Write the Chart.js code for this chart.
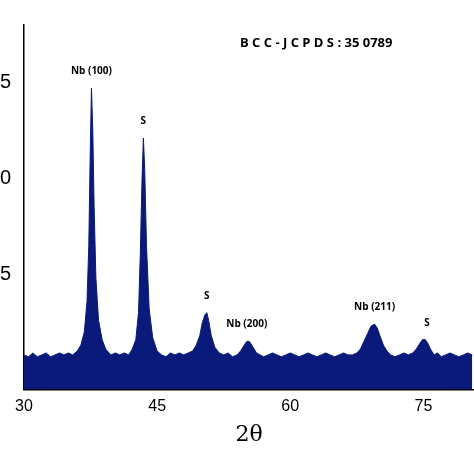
<!DOCTYPE html>
<html><head><meta charset="utf-8">
<script src="https://cdn.jsdelivr.net/npm/chart.js@4.4.0/dist/chart.umd.min.js"></script>
<style>html,body{margin:0;padding:0;background:#fff}#wrap{width:474px;height:474px}</style>
</head><body><div id="wrap"><canvas id="myChart"></canvas></div>
<script>
const twoTheta = [30,30.5,31,31.5,32,32.5,33,33.5,34,34.5,35,35.5,36,36.4,36.8,37.1,37.3,37.45,37.6,37.75,37.9,38.1,38.4,38.8,39.2,39.8,40.3,40.8,41.3,41.8,42.2,42.6,42.9,43.1,43.3,43.45,43.6,43.8,44.1,44.5,45,45.5,46,46.5,47,47.5,48,48.5,49,49.4,49.8,50.1,50.4,50.6,50.8,51.1,51.5,52,52.5,53,53.5,54,54.4,54.8,55.1,55.4,55.8,56.2,56.6,57,57.5,58,58.5,59,59.5,60,60.5,61,61.5,62,62.5,63,63.5,64,64.5,65,65.5,66,66.5,67,67.5,67.9,68.3,68.7,69.1,69.5,69.8,70.1,70.5,70.9,71.3,71.8,72.3,72.8,73.3,73.8,74.2,74.6,74.9,75.2,75.5,75.8,76.2,76.6,77,77.5,78,78.5,79,79.5,80,80.5,81];
const intensity = [0.8,0.7,0.9,0.7,0.8,0.9,0.7,0.8,0.9,0.8,0.9,0.8,1.0,1.3,2.0,3.6,6.5,11,14.7,12.5,8.5,4.8,2.6,1.6,1.1,0.8,0.9,0.8,0.9,0.8,1.1,1.6,3.0,6,10,12.1,10.5,6.5,3.2,1.7,1.0,0.8,0.7,0.9,0.8,0.9,0.8,0.9,1.0,1.3,1.8,2.5,2.9,3.0,2.6,1.8,1.2,0.9,0.8,0.9,0.7,0.8,1.0,1.3,1.5,1.5,1.2,0.9,0.8,0.7,0.8,0.9,0.8,0.7,0.8,0.9,0.8,0.7,0.8,0.9,0.8,0.7,0.8,0.9,0.8,0.7,0.8,0.9,0.8,0.8,0.9,1.1,1.5,1.9,2.3,2.4,2.2,1.8,1.3,1.0,0.8,0.7,0.8,0.9,0.8,0.9,1.1,1.4,1.6,1.6,1.4,1.1,0.8,0.9,0.7,0.8,0.9,0.8,0.7,0.8,0.9,0.8];
const xTicks = [30,45,60,75];
const peakNames = ["Nb (100)","S","S","Nb (200)","Nb (211)","S"];
const peakPos = [37.6,43.45,50.6,55.1,69.5,75.4];
const peakTop = [14.7,12.1,3.0,1.5,2.4,1.6];

const labelPlugin = {
  id: 'labels',
  afterDraw(chart) {
    const c = chart.ctx, x = chart.scales.x, y = chart.scales.y;
    c.save();
    c.fillStyle = '#000';
    c.textAlign = 'center';
    c.font = 'bold 10px "Open Sans", Arial';
    peakNames.forEach((n, i) => {
      c.fillText(n, x.getPixelForValue(peakPos[i]), y.getPixelForValue(peakTop[i]) - 14);
    });
    c.font = 'bold 13px "Open Sans", Arial';
    c.textAlign = 'left';
    c.fillText('B C C - J C P D S : 35 0789', 240, 47);
    c.restore();
  }
};

new Chart(document.getElementById('myChart'), {
  type: 'line',
  data: {
    labels: twoTheta,
    datasets: [{
      data: twoTheta.map((t, i) => ({x: t, y: intensity[i]})),
      borderColor: '#0a1a7a', backgroundColor: '#0a1a7a',
      borderWidth: 1, pointRadius: 0, fill: 'start', tension: 0
    }]
  },
  options: {
    animation: false, responsive: true, maintainAspectRatio: false,
    layout: {padding: {top: 25, right: 0, left: 0, bottom: 22}},
    plugins: {legend: {display: false}, tooltip: {enabled: false}},
    scales: {
      x: {
        type: 'linear', min: 30, max: 80.7,
        afterBuildTicks(s) { s.ticks = xTicks.map(v => ({value: v})); },
        grid: {display: false, tickLength: 5},
        border: {color: '#000', width: 1.5},
        ticks: {color: '#000', font: {size: 16, family: 'Arial'}},
        title: {display: true, text: '2θ', color: '#000', font: {size: 22, family: '"DejaVu Serif", serif'}, padding: {top: 2}}
      },
      y: {
        min: -1, max: 18,
        afterFit(s) { s.width = 24; },
        grid: {display: false, tickLength: 5},
        border: {color: '#000', width: 1.5},
        ticks: {stepSize: 5, color: '#000', padding: 8, font: {size: 20, family: 'Arial'},
          callback: v => (v >= 0 && v % 5 === 0) ? String(v) : ''}
      }
    }
  },
  plugins: [labelPlugin]
});
</script></body></html>
